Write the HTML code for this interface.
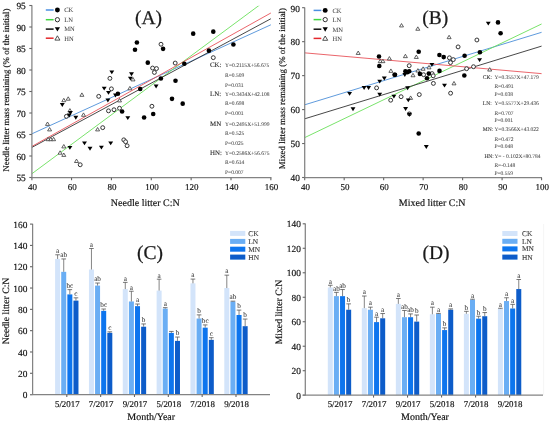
<!DOCTYPE html><html><head><meta charset="utf-8"><style>html,body{margin:0;padding:0;background:#fff;}svg{display:block;} text{font-family:"Liberation Serif",serif;text-rendering:geometricPrecision;stroke-width:0.16px;} </style></head><body>
<svg width="550" height="423" viewBox="0 0 550 423">
<defs><filter id="bl" x="0" y="0" width="1" height="1"><feGaussianBlur stdDeviation="0.5"/></filter></defs>
<rect width="550" height="423" fill="#fff"/>
<g filter="url(#bl)">
<clipPath id="cpA"><rect x="31.7" y="5.8" width="240" height="173"/></clipPath>
<clipPath id="cpB"><rect x="304.7" y="7" width="238" height="171"/></clipPath>
<g clip-path="url(#cpA)">
<line x1="31.7" y1="133.92" x2="270.86" y2="24.79" stroke="#4d8fd8" stroke-width="0.9" />
<line x1="31.7" y1="173.87" x2="270.86" y2="-3.32" stroke="#6ae05a" stroke-width="0.9" />
<line x1="31.7" y1="147.49" x2="270.86" y2="18.75" stroke="#333" stroke-width="0.9" />
<line x1="31.7" y1="146.53" x2="270.86" y2="12.99" stroke="#e8535a" stroke-width="0.9" />
</g>
<line x1="31.9" y1="5.2" x2="31.9" y2="178" stroke="#838383" stroke-width="1.25" />
<line x1="29.3" y1="177.5" x2="31.9" y2="177.5" stroke="#666" stroke-width="1.1" />
<text x="25.8" y="181.3" font-size="9.4" text-anchor="end" fill="#111" stroke="#111" >55</text>
<line x1="29.3" y1="156" x2="31.9" y2="156" stroke="#666" stroke-width="1.1" />
<text x="25.8" y="159.8" font-size="9.4" text-anchor="end" fill="#111" stroke="#111" >60</text>
<line x1="29.3" y1="134.5" x2="31.9" y2="134.5" stroke="#666" stroke-width="1.1" />
<text x="25.8" y="138.3" font-size="9.4" text-anchor="end" fill="#111" stroke="#111" >65</text>
<line x1="29.3" y1="113" x2="31.9" y2="113" stroke="#666" stroke-width="1.1" />
<text x="25.8" y="116.8" font-size="9.4" text-anchor="end" fill="#111" stroke="#111" >70</text>
<line x1="29.3" y1="91.5" x2="31.9" y2="91.5" stroke="#666" stroke-width="1.1" />
<text x="25.8" y="95.3" font-size="9.4" text-anchor="end" fill="#111" stroke="#111" >75</text>
<line x1="29.3" y1="70" x2="31.9" y2="70" stroke="#666" stroke-width="1.1" />
<text x="25.8" y="73.8" font-size="9.4" text-anchor="end" fill="#111" stroke="#111" >80</text>
<line x1="29.3" y1="48.5" x2="31.9" y2="48.5" stroke="#666" stroke-width="1.1" />
<text x="25.8" y="52.3" font-size="9.4" text-anchor="end" fill="#111" stroke="#111" >85</text>
<line x1="29.3" y1="27" x2="31.9" y2="27" stroke="#666" stroke-width="1.1" />
<text x="25.8" y="30.8" font-size="9.4" text-anchor="end" fill="#111" stroke="#111" >90</text>
<line x1="29.3" y1="5.5" x2="31.9" y2="5.5" stroke="#666" stroke-width="1.1" />
<text x="25.8" y="9.3" font-size="9.4" text-anchor="end" fill="#111" stroke="#111" >95</text>
<line x1="31.4" y1="177.7" x2="271.5" y2="177.7" stroke="#838383" stroke-width="1.25" />
<line x1="31.9" y1="177.7" x2="31.9" y2="180.3" stroke="#666" stroke-width="1.1" />
<text x="32.6" y="190.2" font-size="9.0" text-anchor="middle" fill="#111" stroke="#111" >40</text>
<line x1="71.56" y1="177.7" x2="71.56" y2="180.3" stroke="#666" stroke-width="1.1" />
<text x="72.26" y="190.2" font-size="9.0" text-anchor="middle" fill="#111" stroke="#111" >60</text>
<line x1="111.42" y1="177.7" x2="111.42" y2="180.3" stroke="#666" stroke-width="1.1" />
<text x="112.12" y="190.2" font-size="9.0" text-anchor="middle" fill="#111" stroke="#111" >80</text>
<line x1="151.28" y1="177.7" x2="151.28" y2="180.3" stroke="#666" stroke-width="1.1" />
<text x="151.98" y="190.2" font-size="9.0" text-anchor="middle" fill="#111" stroke="#111" >100</text>
<line x1="191.14" y1="177.7" x2="191.14" y2="180.3" stroke="#666" stroke-width="1.1" />
<text x="191.84" y="190.2" font-size="9.0" text-anchor="middle" fill="#111" stroke="#111" >120</text>
<line x1="231" y1="177.7" x2="231" y2="180.3" stroke="#666" stroke-width="1.1" />
<text x="231.7" y="190.2" font-size="9.0" text-anchor="middle" fill="#111" stroke="#111" >140</text>
<line x1="270.86" y1="177.7" x2="270.86" y2="180.3" stroke="#666" stroke-width="1.1" />
<text x="271.56" y="190.2" font-size="9.0" text-anchor="middle" fill="#111" stroke="#111" >160</text>
<path d="M61.8 101.7L65.8 101.7L63.8 98.3Z" fill="#fff" stroke="#3a3a3a" stroke-width="0.8" stroke-linejoin="miter"/>
<path d="M66.2 100.2L70.2 100.2L68.2 96.8Z" fill="#fff" stroke="#3a3a3a" stroke-width="0.8" stroke-linejoin="miter"/>
<path d="M79.9 96.3L83.9 96.3L81.9 92.9Z" fill="#fff" stroke="#3a3a3a" stroke-width="0.8" stroke-linejoin="miter"/>
<path d="M131 80.9L135 80.9L133 77.5Z" fill="#fff" stroke="#3a3a3a" stroke-width="0.8" stroke-linejoin="miter"/>
<path d="M127.9 89.8L131.9 89.8L129.9 86.4Z" fill="#fff" stroke="#3a3a3a" stroke-width="0.8" stroke-linejoin="miter"/>
<path d="M117.5 101.9L121.5 101.9L119.5 98.5Z" fill="#fff" stroke="#3a3a3a" stroke-width="0.8" stroke-linejoin="miter"/>
<path d="M67.9 112L71.9 112L69.9 108.6Z" fill="#fff" stroke="#3a3a3a" stroke-width="0.8" stroke-linejoin="miter"/>
<path d="M81.5 116.3L85.5 116.3L83.5 112.9Z" fill="#fff" stroke="#3a3a3a" stroke-width="0.8" stroke-linejoin="miter"/>
<path d="M45.5 125.4L49.5 125.4L47.5 122Z" fill="#fff" stroke="#3a3a3a" stroke-width="0.8" stroke-linejoin="miter"/>
<path d="M47.6 130.9L51.6 130.9L49.6 127.5Z" fill="#fff" stroke="#3a3a3a" stroke-width="0.8" stroke-linejoin="miter"/>
<path d="M46.1 140.7L50.1 140.7L48.1 137.3Z" fill="#fff" stroke="#3a3a3a" stroke-width="0.8" stroke-linejoin="miter"/>
<path d="M48.8 140.7L52.8 140.7L50.8 137.3Z" fill="#fff" stroke="#3a3a3a" stroke-width="0.8" stroke-linejoin="miter"/>
<path d="M51.6 140.7L55.6 140.7L53.6 137.3Z" fill="#fff" stroke="#3a3a3a" stroke-width="0.8" stroke-linejoin="miter"/>
<path d="M95.6 130.9L99.6 130.9L97.6 127.5Z" fill="#fff" stroke="#3a3a3a" stroke-width="0.8" stroke-linejoin="miter"/>
<path d="M61.8 147.9L65.8 147.9L63.8 144.5Z" fill="#fff" stroke="#3a3a3a" stroke-width="0.8" stroke-linejoin="miter"/>
<path d="M58.1 154.2L62.1 154.2L60.1 150.8Z" fill="#fff" stroke="#3a3a3a" stroke-width="0.8" stroke-linejoin="miter"/>
<path d="M61.8 156.4L65.8 156.4L63.8 153Z" fill="#fff" stroke="#3a3a3a" stroke-width="0.8" stroke-linejoin="miter"/>
<path d="M74.5 162.5L78.5 162.5L76.5 159.1Z" fill="#fff" stroke="#3a3a3a" stroke-width="0.8" stroke-linejoin="miter"/>
<circle cx="109.9" cy="78.35" r="1.95" fill="#fff" stroke="#2a2a2a" stroke-width="0.95"/>
<circle cx="111.4" cy="88.85" r="1.95" fill="#fff" stroke="#2a2a2a" stroke-width="0.95"/>
<circle cx="98.7" cy="96.35" r="1.95" fill="#fff" stroke="#2a2a2a" stroke-width="0.95"/>
<circle cx="108.5" cy="110.85" r="1.95" fill="#fff" stroke="#2a2a2a" stroke-width="0.95"/>
<circle cx="114" cy="109.75" r="1.95" fill="#fff" stroke="#2a2a2a" stroke-width="0.95"/>
<circle cx="119.5" cy="108.25" r="1.95" fill="#fff" stroke="#2a2a2a" stroke-width="0.95"/>
<circle cx="102.7" cy="127.65" r="1.95" fill="#fff" stroke="#2a2a2a" stroke-width="0.95"/>
<circle cx="123.8" cy="139.85" r="1.95" fill="#fff" stroke="#2a2a2a" stroke-width="0.95"/>
<circle cx="125.6" cy="141.75" r="1.95" fill="#fff" stroke="#2a2a2a" stroke-width="0.95"/>
<circle cx="127.1" cy="145.75" r="1.95" fill="#fff" stroke="#2a2a2a" stroke-width="0.95"/>
<circle cx="80.2" cy="164.75" r="1.95" fill="#fff" stroke="#2a2a2a" stroke-width="0.95"/>
<circle cx="161" cy="44.25" r="1.95" fill="#fff" stroke="#2a2a2a" stroke-width="0.95"/>
<circle cx="175.2" cy="63.05" r="1.95" fill="#fff" stroke="#2a2a2a" stroke-width="0.95"/>
<circle cx="152.6" cy="68.05" r="1.95" fill="#fff" stroke="#2a2a2a" stroke-width="0.95"/>
<circle cx="156.5" cy="68.55" r="1.95" fill="#fff" stroke="#2a2a2a" stroke-width="0.95"/>
<circle cx="154.4" cy="72.45" r="1.95" fill="#fff" stroke="#2a2a2a" stroke-width="0.95"/>
<circle cx="213.3" cy="57.65" r="1.95" fill="#fff" stroke="#2a2a2a" stroke-width="0.95"/>
<circle cx="151.9" cy="106.25" r="1.95" fill="#fff" stroke="#2a2a2a" stroke-width="0.95"/>
<circle cx="66.4" cy="116.35" r="1.95" fill="#fff" stroke="#2a2a2a" stroke-width="0.95"/>
<path d="M109.35 70.4L114.25 70.4L111.8 74.25Z" fill="#000"/>
<path d="M129.05 72.3L133.95 72.3L131.5 76.15Z" fill="#000"/>
<path d="M127.95 76.7L132.85 76.7L130.4 80.55Z" fill="#000"/>
<path d="M101.75 86.7L106.65 86.7L104.2 90.55Z" fill="#000"/>
<path d="M106.05 91L110.95 91L108.5 94.85Z" fill="#000"/>
<path d="M113.05 93.6L117.95 93.6L115.5 97.45Z" fill="#000"/>
<path d="M105.45 98.6L110.35 98.6L107.9 102.45Z" fill="#000"/>
<path d="M59.85 103.1L64.75 103.1L62.3 106.95Z" fill="#000"/>
<path d="M66.85 113.6L71.75 113.6L69.3 117.45Z" fill="#000"/>
<path d="M73.35 115.8L78.25 115.8L75.8 119.65Z" fill="#000"/>
<path d="M125.35 116.2L130.25 116.2L127.8 120.05Z" fill="#000"/>
<path d="M82.05 141.5L86.95 141.5L84.5 145.35Z" fill="#000"/>
<path d="M108.25 141.5L113.15 141.5L110.7 145.35Z" fill="#000"/>
<path d="M67.45 145.9L72.35 145.9L69.9 149.75Z" fill="#000"/>
<path d="M87.55 146.8L92.45 146.8L90 150.65Z" fill="#000"/>
<path d="M98.95 145.7L103.85 145.7L101.4 149.55Z" fill="#000"/>
<path d="M153.65 84.6L158.55 84.6L156.1 88.45Z" fill="#000"/>
<path d="M67.95 111L72.85 111L70.4 114.85Z" fill="#000"/>
<circle cx="136.9" cy="42.55" r="2.3" fill="#000"/>
<circle cx="135" cy="49.75" r="2.3" fill="#000"/>
<circle cx="147.8" cy="62.65" r="2.3" fill="#000"/>
<circle cx="140.2" cy="89.05" r="2.3" fill="#000"/>
<circle cx="193.2" cy="33.65" r="2.3" fill="#000"/>
<circle cx="213.3" cy="31.65" r="2.3" fill="#000"/>
<circle cx="233.4" cy="44.55" r="2.3" fill="#000"/>
<circle cx="163.1" cy="48.85" r="2.3" fill="#000"/>
<circle cx="208.9" cy="50.65" r="2.3" fill="#000"/>
<circle cx="184.3" cy="63.75" r="2.3" fill="#000"/>
<circle cx="160.9" cy="78.55" r="2.3" fill="#000"/>
<circle cx="175.5" cy="80.75" r="2.3" fill="#000"/>
<circle cx="172" cy="98.85" r="2.3" fill="#000"/>
<circle cx="182.7" cy="103.65" r="2.3" fill="#000"/>
<circle cx="153.2" cy="114.05" r="2.3" fill="#000"/>
<circle cx="144.1" cy="117.45" r="2.3" fill="#000"/>
<circle cx="117.9" cy="93.75" r="2.3" fill="#000"/>
<circle cx="122.1" cy="111.55" r="2.3" fill="#000"/>
<text x="148.6" y="23.8" font-size="19.5" text-anchor="middle" fill="#1a1a1a" stroke="#1a1a1a" style="stroke-width:0.25px">(A)</text>
<text x="145.3" y="205.6" font-size="10" text-anchor="middle" fill="#111" stroke="#111" >Needle litter C:N</text>
<text transform="translate(8.55,90.15) rotate(-90)" font-size="8.87" text-anchor="middle" fill="#111" stroke="#111">Needle litter mass remaining (% of the initial)</text>
<line x1="45.8" y1="10" x2="53.6" y2="10" stroke="#4a8fe0" stroke-width="1.5" />
<circle cx="57.4" cy="10" r="2.45" fill="#000"/>
<text x="64.2" y="12.3" font-size="6.5" text-anchor="start" fill="#3c3c3c" stroke="#3c3c3c" style="stroke-width:0.04px">CK</text>
<line x1="45.8" y1="19.7" x2="53.6" y2="19.7" stroke="#3fd63f" stroke-width="1.5" />
<circle cx="57.4" cy="19.7" r="2.15" fill="#fff" stroke="#2a2a2a" stroke-width="0.95"/>
<text x="64.2" y="22" font-size="6.5" text-anchor="start" fill="#3c3c3c" stroke="#3c3c3c" style="stroke-width:0.04px">LN</text>
<line x1="45.8" y1="29.1" x2="53.6" y2="29.1" stroke="#111" stroke-width="1.5" />
<path d="M54.8 27.2L60 27.2L57.4 31.6Z" fill="#000"/>
<text x="64.2" y="31.4" font-size="6.5" text-anchor="start" fill="#3c3c3c" stroke="#3c3c3c" style="stroke-width:0.04px">MN</text>
<line x1="45.8" y1="38.2" x2="53.6" y2="38.2" stroke="#e4282d" stroke-width="1.5" />
<path d="M54.9 40.1L59.9 40.1L57.4 35.8Z" fill="#fff" stroke="#333" stroke-width="0.85"/>
<text x="64.2" y="40.5" font-size="6.5" text-anchor="start" fill="#3c3c3c" stroke="#3c3c3c" style="stroke-width:0.04px">HN</text>
<text x="210" y="67.1" font-size="6.9" text-anchor="start" fill="#2a2a2a" stroke="#2a2a2a" style="stroke-width:0.12px">CK:</text>
<text x="225" y="67.1" font-size="5.5" text-anchor="start" fill="#4a4a4a" stroke="#4a4a4a" style="stroke-width:0.06px">Y=0.2115X+56.675</text>
<text x="225" y="76.7" font-size="5.5" text-anchor="start" fill="#4a4a4a" stroke="#4a4a4a" style="stroke-width:0.06px">R=0.509</text>
<text x="225" y="86.8" font-size="5.5" text-anchor="start" fill="#4a4a4a" stroke="#4a4a4a" style="stroke-width:0.06px">P=0.031</text>
<text x="210" y="96" font-size="6.9" text-anchor="start" fill="#2a2a2a" stroke="#2a2a2a" style="stroke-width:0.12px">LN:</text>
<text x="225" y="96" font-size="5.5" text-anchor="start" fill="#4a4a4a" stroke="#4a4a4a" style="stroke-width:0.06px">Y=0.3434X+42.108</text>
<text x="225" y="105.2" font-size="5.5" text-anchor="start" fill="#4a4a4a" stroke="#4a4a4a" style="stroke-width:0.06px">R=0.698</text>
<text x="225" y="115.1" font-size="5.5" text-anchor="start" fill="#4a4a4a" stroke="#4a4a4a" style="stroke-width:0.06px">P=0.001</text>
<text x="210" y="125.7" font-size="6.9" text-anchor="start" fill="#2a2a2a" stroke="#2a2a2a" style="stroke-width:0.12px">MN</text>
<text x="225" y="125.7" font-size="5.5" text-anchor="start" fill="#4a4a4a" stroke="#4a4a4a" style="stroke-width:0.06px">Y=0.2495X+51.999</text>
<text x="225" y="135" font-size="5.5" text-anchor="start" fill="#4a4a4a" stroke="#4a4a4a" style="stroke-width:0.06px">R=0.525</text>
<text x="225" y="145" font-size="5.5" text-anchor="start" fill="#4a4a4a" stroke="#4a4a4a" style="stroke-width:0.06px">P=0.025</text>
<text x="210" y="154.5" font-size="6.9" text-anchor="start" fill="#2a2a2a" stroke="#2a2a2a" style="stroke-width:0.12px">HN:</text>
<text x="225" y="154.5" font-size="5.5" text-anchor="start" fill="#4a4a4a" stroke="#4a4a4a" style="stroke-width:0.06px">Y=0.2586X+56.675</text>
<text x="225" y="164.4" font-size="5.5" text-anchor="start" fill="#4a4a4a" stroke="#4a4a4a" style="stroke-width:0.06px">R=0.614</text>
<text x="225" y="174" font-size="5.5" text-anchor="start" fill="#4a4a4a" stroke="#4a4a4a" style="stroke-width:0.06px">P=0.007</text>
<g clip-path="url(#cpB)">
<line x1="304.7" y1="104.8" x2="541.58" y2="32.32" stroke="#4d8fd8" stroke-width="0.9" />
<line x1="304.7" y1="137.62" x2="541.58" y2="23.98" stroke="#6ae05a" stroke-width="0.9" />
<line x1="304.7" y1="118.8" x2="541.58" y2="46.14" stroke="#333" stroke-width="0.9" />
<line x1="304.7" y1="52.85" x2="541.58" y2="73.64" stroke="#e8535a" stroke-width="0.9" />
</g>
<line x1="304.7" y1="7.4" x2="304.7" y2="178" stroke="#838383" stroke-width="1.25" />
<line x1="302.1" y1="177.5" x2="304.7" y2="177.5" stroke="#666" stroke-width="1.1" />
<text x="299.9" y="181.3" font-size="9.4" text-anchor="end" fill="#111" stroke="#111" >40</text>
<line x1="302.1" y1="143.54" x2="304.7" y2="143.54" stroke="#666" stroke-width="1.1" />
<text x="299.9" y="147.34" font-size="9.4" text-anchor="end" fill="#111" stroke="#111" >50</text>
<line x1="302.1" y1="109.58" x2="304.7" y2="109.58" stroke="#666" stroke-width="1.1" />
<text x="299.9" y="113.38" font-size="9.4" text-anchor="end" fill="#111" stroke="#111" >60</text>
<line x1="302.1" y1="75.62" x2="304.7" y2="75.62" stroke="#666" stroke-width="1.1" />
<text x="299.9" y="79.42" font-size="9.4" text-anchor="end" fill="#111" stroke="#111" >70</text>
<line x1="302.1" y1="41.66" x2="304.7" y2="41.66" stroke="#666" stroke-width="1.1" />
<text x="299.9" y="45.46" font-size="9.4" text-anchor="end" fill="#111" stroke="#111" >80</text>
<line x1="302.1" y1="7.7" x2="304.7" y2="7.7" stroke="#666" stroke-width="1.1" />
<text x="299.9" y="11.5" font-size="9.4" text-anchor="end" fill="#111" stroke="#111" >90</text>
<line x1="304.2" y1="177.7" x2="542" y2="177.7" stroke="#838383" stroke-width="1.25" />
<line x1="304.7" y1="177.7" x2="304.7" y2="180.3" stroke="#666" stroke-width="1.1" />
<text x="305.4" y="190.2" font-size="9.0" text-anchor="middle" fill="#111" stroke="#111" >40</text>
<line x1="344.18" y1="177.7" x2="344.18" y2="180.3" stroke="#666" stroke-width="1.1" />
<text x="344.88" y="190.2" font-size="9.0" text-anchor="middle" fill="#111" stroke="#111" >50</text>
<line x1="383.66" y1="177.7" x2="383.66" y2="180.3" stroke="#666" stroke-width="1.1" />
<text x="384.36" y="190.2" font-size="9.0" text-anchor="middle" fill="#111" stroke="#111" >60</text>
<line x1="423.14" y1="177.7" x2="423.14" y2="180.3" stroke="#666" stroke-width="1.1" />
<text x="423.84" y="190.2" font-size="9.0" text-anchor="middle" fill="#111" stroke="#111" >70</text>
<line x1="462.62" y1="177.7" x2="462.62" y2="180.3" stroke="#666" stroke-width="1.1" />
<text x="463.32" y="190.2" font-size="9.0" text-anchor="middle" fill="#111" stroke="#111" >80</text>
<line x1="502.1" y1="177.7" x2="502.1" y2="180.3" stroke="#666" stroke-width="1.1" />
<text x="502.8" y="190.2" font-size="9.0" text-anchor="middle" fill="#111" stroke="#111" >90</text>
<line x1="541.58" y1="177.7" x2="541.58" y2="180.3" stroke="#666" stroke-width="1.1" />
<text x="542.28" y="190.2" font-size="9.0" text-anchor="middle" fill="#111" stroke="#111" >100</text>
<path d="M356.2 54.45L360.2 54.45L358.2 51.05Z" fill="#fff" stroke="#3a3a3a" stroke-width="0.8" stroke-linejoin="miter"/>
<path d="M378.2 62.65L382.2 62.65L380.2 59.25Z" fill="#fff" stroke="#3a3a3a" stroke-width="0.8" stroke-linejoin="miter"/>
<path d="M380.9 62.65L384.9 62.65L382.9 59.25Z" fill="#fff" stroke="#3a3a3a" stroke-width="0.8" stroke-linejoin="miter"/>
<path d="M387.4 59.95L391.4 59.95L389.4 56.55Z" fill="#fff" stroke="#3a3a3a" stroke-width="0.8" stroke-linejoin="miter"/>
<path d="M388.9 72.35L392.9 72.35L390.9 68.95Z" fill="#fff" stroke="#3a3a3a" stroke-width="0.8" stroke-linejoin="miter"/>
<path d="M399.5 26.95L403.5 26.95L401.5 23.55Z" fill="#fff" stroke="#3a3a3a" stroke-width="0.8" stroke-linejoin="miter"/>
<path d="M415.8 30.25L419.8 30.25L417.8 26.85Z" fill="#fff" stroke="#3a3a3a" stroke-width="0.8" stroke-linejoin="miter"/>
<path d="M403.4 57.65L407.4 57.65L405.4 54.25Z" fill="#fff" stroke="#3a3a3a" stroke-width="0.8" stroke-linejoin="miter"/>
<path d="M414.3 58.45L418.3 58.45L416.3 55.05Z" fill="#fff" stroke="#3a3a3a" stroke-width="0.8" stroke-linejoin="miter"/>
<path d="M427 68.85L431 68.85L429 65.45Z" fill="#fff" stroke="#3a3a3a" stroke-width="0.8" stroke-linejoin="miter"/>
<path d="M421.1 70.25L425.1 70.25L423.1 66.85Z" fill="#fff" stroke="#3a3a3a" stroke-width="0.8" stroke-linejoin="miter"/>
<path d="M415.9 72.05L419.9 72.05L417.9 68.65Z" fill="#fff" stroke="#3a3a3a" stroke-width="0.8" stroke-linejoin="miter"/>
<path d="M411 76.75L415 76.75L413 73.35Z" fill="#fff" stroke="#3a3a3a" stroke-width="0.8" stroke-linejoin="miter"/>
<path d="M447.1 38.65L451.1 38.65L449.1 35.25Z" fill="#fff" stroke="#3a3a3a" stroke-width="0.8" stroke-linejoin="miter"/>
<path d="M487.7 71.05L491.7 71.05L489.7 67.65Z" fill="#fff" stroke="#3a3a3a" stroke-width="0.8" stroke-linejoin="miter"/>
<path d="M452 84.85L456 84.85L454 81.45Z" fill="#fff" stroke="#3a3a3a" stroke-width="0.8" stroke-linejoin="miter"/>
<path d="M408.6 99.35L412.6 99.35L410.6 95.95Z" fill="#fff" stroke="#3a3a3a" stroke-width="0.8" stroke-linejoin="miter"/>
<circle cx="376.6" cy="87.9" r="1.95" fill="#fff" stroke="#2a2a2a" stroke-width="0.95"/>
<circle cx="409.2" cy="65.7" r="1.95" fill="#fff" stroke="#2a2a2a" stroke-width="0.95"/>
<circle cx="423.6" cy="74.7" r="1.95" fill="#fff" stroke="#2a2a2a" stroke-width="0.95"/>
<circle cx="432.1" cy="73.6" r="1.95" fill="#fff" stroke="#2a2a2a" stroke-width="0.95"/>
<circle cx="433.2" cy="75.8" r="1.95" fill="#fff" stroke="#2a2a2a" stroke-width="0.95"/>
<circle cx="433.4" cy="83.4" r="1.95" fill="#fff" stroke="#2a2a2a" stroke-width="0.95"/>
<circle cx="449.4" cy="57.8" r="1.95" fill="#fff" stroke="#2a2a2a" stroke-width="0.95"/>
<circle cx="453.3" cy="59.6" r="1.95" fill="#fff" stroke="#2a2a2a" stroke-width="0.95"/>
<circle cx="450.5" cy="62.6" r="1.95" fill="#fff" stroke="#2a2a2a" stroke-width="0.95"/>
<circle cx="458.1" cy="46.9" r="1.95" fill="#fff" stroke="#2a2a2a" stroke-width="0.95"/>
<circle cx="476.9" cy="40" r="1.95" fill="#fff" stroke="#2a2a2a" stroke-width="0.95"/>
<circle cx="466.6" cy="68.7" r="1.95" fill="#fff" stroke="#2a2a2a" stroke-width="0.95"/>
<circle cx="473.5" cy="66.7" r="1.95" fill="#fff" stroke="#2a2a2a" stroke-width="0.95"/>
<circle cx="390.7" cy="100.2" r="1.95" fill="#fff" stroke="#2a2a2a" stroke-width="0.95"/>
<circle cx="401.1" cy="96.7" r="1.95" fill="#fff" stroke="#2a2a2a" stroke-width="0.95"/>
<circle cx="419.3" cy="94.6" r="1.95" fill="#fff" stroke="#2a2a2a" stroke-width="0.95"/>
<circle cx="450.6" cy="93.2" r="1.95" fill="#fff" stroke="#2a2a2a" stroke-width="0.95"/>
<circle cx="409.4" cy="113.9" r="1.95" fill="#fff" stroke="#2a2a2a" stroke-width="0.95"/>
<path d="M347.15 91.95L352.05 91.95L349.6 95.8Z" fill="#000"/>
<path d="M361.65 86.05L366.55 86.05L364.1 89.9Z" fill="#000"/>
<path d="M366.15 86.05L371.05 86.05L368.6 89.9Z" fill="#000"/>
<path d="M377.25 79.75L382.15 79.75L379.7 83.6Z" fill="#000"/>
<path d="M381.85 76.55L386.75 76.55L384.3 80.4Z" fill="#000"/>
<path d="M377.25 92.65L382.15 92.65L379.7 96.5Z" fill="#000"/>
<path d="M391.45 94.75L396.35 94.75L393.9 98.6Z" fill="#000"/>
<path d="M405.15 86.35L410.05 86.35L407.6 90.2Z" fill="#000"/>
<path d="M402.35 73.05L407.25 73.05L404.8 76.9Z" fill="#000"/>
<path d="M429.45 62.95L434.35 62.95L431.9 66.8Z" fill="#000"/>
<path d="M442.05 83.75L446.95 83.75L444.5 87.6Z" fill="#000"/>
<path d="M477.15 58.15L482.05 58.15L479.6 62Z" fill="#000"/>
<path d="M485.85 21.75L490.75 21.75L488.3 25.6Z" fill="#000"/>
<path d="M405.85 98.45L410.75 98.45L408.3 102.3Z" fill="#000"/>
<path d="M403.15 107.05L408.05 107.05L405.6 110.9Z" fill="#000"/>
<path d="M406.95 112.85L411.85 112.85L409.4 116.7Z" fill="#000"/>
<path d="M423.85 145.05L428.75 145.05L426.3 148.9Z" fill="#000"/>
<path d="M350.55 107.35L355.45 107.35L353 111.2Z" fill="#000"/>
<circle cx="379" cy="56.5" r="2.3" fill="#000"/>
<circle cx="379.3" cy="66" r="2.3" fill="#000"/>
<circle cx="394.6" cy="74.8" r="2.3" fill="#000"/>
<circle cx="418.7" cy="51.8" r="2.3" fill="#000"/>
<circle cx="405.4" cy="71.2" r="2.3" fill="#000"/>
<circle cx="409.2" cy="71.2" r="2.3" fill="#000"/>
<circle cx="419.9" cy="73.9" r="2.3" fill="#000"/>
<circle cx="428.8" cy="73.6" r="2.3" fill="#000"/>
<circle cx="427" cy="78.3" r="2.3" fill="#000"/>
<circle cx="395" cy="74.7" r="2.3" fill="#000"/>
<circle cx="439.5" cy="70.9" r="2.3" fill="#000"/>
<circle cx="439.4" cy="55" r="2.3" fill="#000"/>
<circle cx="443.7" cy="57.1" r="2.3" fill="#000"/>
<circle cx="464.6" cy="55.7" r="2.3" fill="#000"/>
<circle cx="479.9" cy="52.3" r="2.3" fill="#000"/>
<circle cx="498" cy="22.4" r="2.3" fill="#000"/>
<circle cx="500.6" cy="33.3" r="2.3" fill="#000"/>
<circle cx="464.3" cy="75.5" r="2.3" fill="#000"/>
<circle cx="418.7" cy="133.5" r="2.3" fill="#000"/>
<circle cx="407.4" cy="72.3" r="2.3" fill="#000"/>
<text x="435.3" y="24.3" font-size="19.5" text-anchor="middle" fill="#1a1a1a" stroke="#1a1a1a" style="stroke-width:0.25px">(B)</text>
<text x="432.2" y="205.6" font-size="10" text-anchor="middle" fill="#111" stroke="#111" >Mixed litter C:N</text>
<text transform="translate(284.8,88.6) rotate(-90)" font-size="8.87" text-anchor="middle" fill="#111" stroke="#111">Mixed litter mass remaining (% of the initial)</text>
<line x1="313.6" y1="10.4" x2="321.3" y2="10.4" stroke="#4a8fe0" stroke-width="1.5" />
<circle cx="325.2" cy="10.4" r="2.45" fill="#000"/>
<text x="332.5" y="12.7" font-size="6.5" text-anchor="start" fill="#3c3c3c" stroke="#3c3c3c" style="stroke-width:0.04px">CK</text>
<line x1="313.6" y1="19.6" x2="321.3" y2="19.6" stroke="#3fd63f" stroke-width="1.5" />
<circle cx="325.2" cy="19.6" r="2.15" fill="#fff" stroke="#2a2a2a" stroke-width="0.95"/>
<text x="332.5" y="21.9" font-size="6.5" text-anchor="start" fill="#3c3c3c" stroke="#3c3c3c" style="stroke-width:0.04px">LN</text>
<line x1="313.6" y1="29.2" x2="321.3" y2="29.2" stroke="#111" stroke-width="1.5" />
<path d="M322.6 27.3L327.8 27.3L325.2 31.7Z" fill="#000"/>
<text x="332.5" y="31.5" font-size="6.5" text-anchor="start" fill="#3c3c3c" stroke="#3c3c3c" style="stroke-width:0.04px">MN</text>
<line x1="313.6" y1="38.4" x2="321.3" y2="38.4" stroke="#e4282d" stroke-width="1.5" />
<path d="M322.7 40.3L327.7 40.3L325.2 36Z" fill="#fff" stroke="#333" stroke-width="0.85"/>
<text x="332.5" y="40.7" font-size="6.5" text-anchor="start" fill="#3c3c3c" stroke="#3c3c3c" style="stroke-width:0.04px">HN</text>
<text x="482.8" y="78.6" font-size="5.5" text-anchor="start" fill="#333" stroke="#333" style="stroke-width:0.08px">CK:</text>
<text x="494.4" y="78.6" font-size="5.5" text-anchor="start" fill="#4a4a4a" stroke="#4a4a4a" style="stroke-width:0.06px">Y=0.3557X+47.179</text>
<text x="494.4" y="87.9" font-size="5.5" text-anchor="start" fill="#4a4a4a" stroke="#4a4a4a" style="stroke-width:0.06px">R=0.491</text>
<text x="494.4" y="96.3" font-size="5.5" text-anchor="start" fill="#4a4a4a" stroke="#4a4a4a" style="stroke-width:0.06px">P=0.038</text>
<text x="482.8" y="105" font-size="5.5" text-anchor="start" fill="#333" stroke="#333" style="stroke-width:0.08px">LN:</text>
<text x="494.4" y="105" font-size="5.5" text-anchor="start" fill="#4a4a4a" stroke="#4a4a4a" style="stroke-width:0.06px">Y=0.5577X+29.436</text>
<text x="494.4" y="115" font-size="5.5" text-anchor="start" fill="#4a4a4a" stroke="#4a4a4a" style="stroke-width:0.06px">R=0.707</text>
<text x="494.4" y="122.3" font-size="5.5" text-anchor="start" fill="#4a4a4a" stroke="#4a4a4a" style="stroke-width:0.06px">P=0.001</text>
<text x="482.8" y="131" font-size="5.5" text-anchor="start" fill="#333" stroke="#333" style="stroke-width:0.08px">MN:</text>
<text x="494.4" y="131" font-size="5.5" text-anchor="start" fill="#4a4a4a" stroke="#4a4a4a" style="stroke-width:0.06px">Y=0.3566X+43.022</text>
<text x="494.4" y="140.6" font-size="5.5" text-anchor="start" fill="#4a4a4a" stroke="#4a4a4a" style="stroke-width:0.06px">R=0.472</text>
<text x="494.4" y="148.2" font-size="5.5" text-anchor="start" fill="#4a4a4a" stroke="#4a4a4a" style="stroke-width:0.06px">P=0.048</text>
<text x="484.4" y="157.6" font-size="5.5" text-anchor="start" fill="#333" stroke="#333" style="stroke-width:0.08px">HN:</text>
<text x="494.4" y="157.6" font-size="5.5" text-anchor="start" fill="#4a4a4a" stroke="#4a4a4a" style="stroke-width:0.06px">Y= - 0.102X+80.784</text>
<text x="494.4" y="167" font-size="5.5" text-anchor="start" fill="#4a4a4a" stroke="#4a4a4a" style="stroke-width:0.06px">R=-0.148</text>
<text x="494.4" y="174.9" font-size="5.5" text-anchor="start" fill="#4a4a4a" stroke="#4a4a4a" style="stroke-width:0.06px">P=0.559</text>
<rect x="55.1" y="258.95" width="5.0" height="135.65" fill="#d3e4fa"/>
<rect x="61.22" y="271.84" width="5.0" height="122.76" fill="#6aaef4"/>
<rect x="67.34" y="294.43" width="5.0" height="100.17" fill="#0b74ee"/>
<rect x="73.46" y="300.61" width="5.0" height="93.99" fill="#0b5cc9"/>
<rect x="88.94" y="269.5" width="5.0" height="125.1" fill="#d3e4fa"/>
<rect x="95.06" y="285.59" width="5.0" height="109.01" fill="#6aaef4"/>
<rect x="101.18" y="310.84" width="5.0" height="83.76" fill="#0b74ee"/>
<rect x="107.3" y="332.9" width="5.0" height="61.7" fill="#0b5cc9"/>
<rect x="122.78" y="289.11" width="5.0" height="105.49" fill="#d3e4fa"/>
<rect x="128.9" y="301.47" width="5.0" height="93.13" fill="#6aaef4"/>
<rect x="135.02" y="306.16" width="5.0" height="88.44" fill="#0b74ee"/>
<rect x="141.14" y="326.72" width="5.0" height="67.88" fill="#0b5cc9"/>
<rect x="156.62" y="290.6" width="5.0" height="104" fill="#d3e4fa"/>
<rect x="162.74" y="308.61" width="5.0" height="85.99" fill="#6aaef4"/>
<rect x="168.86" y="332.9" width="5.0" height="61.7" fill="#0b74ee"/>
<rect x="174.98" y="340.89" width="5.0" height="53.71" fill="#0b5cc9"/>
<rect x="190.46" y="283.35" width="5.0" height="111.25" fill="#d3e4fa"/>
<rect x="196.58" y="318.52" width="5.0" height="76.08" fill="#6aaef4"/>
<rect x="202.7" y="327.68" width="5.0" height="66.92" fill="#0b74ee"/>
<rect x="208.82" y="339.83" width="5.0" height="54.77" fill="#0b5cc9"/>
<rect x="224.3" y="288.04" width="5.0" height="106.56" fill="#d3e4fa"/>
<rect x="230.42" y="301.57" width="5.0" height="93.03" fill="#6aaef4"/>
<rect x="236.54" y="315" width="5.0" height="79.6" fill="#0b74ee"/>
<rect x="242.66" y="326.19" width="5.0" height="68.41" fill="#0b5cc9"/>
<line x1="57.6" y1="258.95" x2="57.6" y2="254.79" stroke="#666" stroke-width="0.8" />
<line x1="55.3" y1="254.79" x2="59.9" y2="254.79" stroke="#555" stroke-width="0.8" />
<text x="57.6" y="253.09" font-size="7.2" text-anchor="middle" fill="#3a3a3a" stroke="#3a3a3a" style="stroke-width:0.06px">a</text>
<line x1="63.72" y1="271.84" x2="63.72" y2="258.95" stroke="#666" stroke-width="0.8" />
<line x1="61.42" y1="258.95" x2="66.02" y2="258.95" stroke="#555" stroke-width="0.8" />
<text x="63.72" y="257.25" font-size="7.2" text-anchor="middle" fill="#3a3a3a" stroke="#3a3a3a" style="stroke-width:0.06px">ab</text>
<line x1="69.84" y1="294.43" x2="69.84" y2="289.64" stroke="#666" stroke-width="0.8" />
<line x1="67.54" y1="289.64" x2="72.14" y2="289.64" stroke="#555" stroke-width="0.8" />
<text x="69.84" y="287.94" font-size="7.2" text-anchor="middle" fill="#3a3a3a" stroke="#3a3a3a" style="stroke-width:0.06px">bc</text>
<line x1="75.96" y1="300.61" x2="75.96" y2="297.84" stroke="#666" stroke-width="0.8" />
<line x1="73.66" y1="297.84" x2="78.26" y2="297.84" stroke="#555" stroke-width="0.8" />
<text x="75.96" y="296.14" font-size="7.2" text-anchor="middle" fill="#3a3a3a" stroke="#3a3a3a" style="stroke-width:0.06px">c</text>
<line x1="91.44" y1="269.5" x2="91.44" y2="248.51" stroke="#666" stroke-width="0.8" />
<line x1="89.14" y1="248.51" x2="93.74" y2="248.51" stroke="#555" stroke-width="0.8" />
<text x="91.44" y="246.81" font-size="7.2" text-anchor="middle" fill="#3a3a3a" stroke="#3a3a3a" style="stroke-width:0.06px">a</text>
<line x1="97.56" y1="285.59" x2="97.56" y2="283.03" stroke="#666" stroke-width="0.8" />
<line x1="95.26" y1="283.03" x2="99.86" y2="283.03" stroke="#555" stroke-width="0.8" />
<text x="97.56" y="281.33" font-size="7.2" text-anchor="middle" fill="#3a3a3a" stroke="#3a3a3a" style="stroke-width:0.06px">ab</text>
<line x1="103.68" y1="310.84" x2="103.68" y2="309.03" stroke="#666" stroke-width="0.8" />
<line x1="101.38" y1="309.03" x2="105.98" y2="309.03" stroke="#555" stroke-width="0.8" />
<text x="103.68" y="307.33" font-size="7.2" text-anchor="middle" fill="#3a3a3a" stroke="#3a3a3a" style="stroke-width:0.06px">bc</text>
<line x1="109.8" y1="332.9" x2="109.8" y2="331.84" stroke="#666" stroke-width="0.8" />
<line x1="107.5" y1="331.84" x2="112.1" y2="331.84" stroke="#555" stroke-width="0.8" />
<text x="109.8" y="330.14" font-size="7.2" text-anchor="middle" fill="#3a3a3a" stroke="#3a3a3a" style="stroke-width:0.06px">c</text>
<line x1="125.28" y1="289.11" x2="125.28" y2="282.39" stroke="#666" stroke-width="0.8" />
<line x1="122.98" y1="282.39" x2="127.58" y2="282.39" stroke="#555" stroke-width="0.8" />
<text x="125.28" y="280.69" font-size="7.2" text-anchor="middle" fill="#3a3a3a" stroke="#3a3a3a" style="stroke-width:0.06px">a</text>
<line x1="131.4" y1="301.47" x2="131.4" y2="291.24" stroke="#666" stroke-width="0.8" />
<line x1="129.1" y1="291.24" x2="133.7" y2="291.24" stroke="#555" stroke-width="0.8" />
<text x="131.4" y="289.54" font-size="7.2" text-anchor="middle" fill="#3a3a3a" stroke="#3a3a3a" style="stroke-width:0.06px">a</text>
<line x1="137.52" y1="306.16" x2="137.52" y2="304.02" stroke="#666" stroke-width="0.8" />
<line x1="135.22" y1="304.02" x2="139.82" y2="304.02" stroke="#555" stroke-width="0.8" />
<text x="137.52" y="302.32" font-size="7.2" text-anchor="middle" fill="#3a3a3a" stroke="#3a3a3a" style="stroke-width:0.06px">a</text>
<line x1="143.64" y1="326.72" x2="143.64" y2="323.95" stroke="#666" stroke-width="0.8" />
<line x1="141.34" y1="323.95" x2="145.94" y2="323.95" stroke="#555" stroke-width="0.8" />
<text x="143.64" y="322.25" font-size="7.2" text-anchor="middle" fill="#3a3a3a" stroke="#3a3a3a" style="stroke-width:0.06px">b</text>
<line x1="159.12" y1="290.6" x2="159.12" y2="279.2" stroke="#666" stroke-width="0.8" />
<line x1="156.82" y1="279.2" x2="161.42" y2="279.2" stroke="#555" stroke-width="0.8" />
<text x="159.12" y="277.5" font-size="7.2" text-anchor="middle" fill="#3a3a3a" stroke="#3a3a3a" style="stroke-width:0.06px">a</text>
<line x1="165.24" y1="308.61" x2="165.24" y2="307.65" stroke="#666" stroke-width="0.8" />
<line x1="162.94" y1="307.65" x2="167.54" y2="307.65" stroke="#555" stroke-width="0.8" />
<text x="165.24" y="305.95" font-size="7.2" text-anchor="middle" fill="#3a3a3a" stroke="#3a3a3a" style="stroke-width:0.06px">a</text>
<line x1="171.36" y1="332.9" x2="171.36" y2="331.41" stroke="#666" stroke-width="0.8" />
<line x1="169.06" y1="331.41" x2="173.66" y2="331.41" stroke="#555" stroke-width="0.8" />
<line x1="177.48" y1="340.89" x2="177.48" y2="337.06" stroke="#666" stroke-width="0.8" />
<line x1="175.18" y1="337.06" x2="179.78" y2="337.06" stroke="#555" stroke-width="0.8" />
<text x="177.48" y="335.36" font-size="7.2" text-anchor="middle" fill="#3a3a3a" stroke="#3a3a3a" style="stroke-width:0.06px">b</text>
<line x1="192.96" y1="283.35" x2="192.96" y2="279.09" stroke="#666" stroke-width="0.8" />
<line x1="190.66" y1="279.09" x2="195.26" y2="279.09" stroke="#555" stroke-width="0.8" />
<text x="192.96" y="277.39" font-size="7.2" text-anchor="middle" fill="#3a3a3a" stroke="#3a3a3a" style="stroke-width:0.06px">a</text>
<line x1="199.08" y1="318.52" x2="199.08" y2="314.89" stroke="#666" stroke-width="0.8" />
<line x1="196.78" y1="314.89" x2="201.38" y2="314.89" stroke="#555" stroke-width="0.8" />
<text x="199.08" y="313.19" font-size="7.2" text-anchor="middle" fill="#3a3a3a" stroke="#3a3a3a" style="stroke-width:0.06px">b</text>
<line x1="205.2" y1="327.68" x2="205.2" y2="324.91" stroke="#666" stroke-width="0.8" />
<line x1="202.9" y1="324.91" x2="207.5" y2="324.91" stroke="#555" stroke-width="0.8" />
<text x="205.2" y="323.21" font-size="7.2" text-anchor="middle" fill="#3a3a3a" stroke="#3a3a3a" style="stroke-width:0.06px">bc</text>
<line x1="211.32" y1="339.83" x2="211.32" y2="337.7" stroke="#666" stroke-width="0.8" />
<line x1="209.02" y1="337.7" x2="213.62" y2="337.7" stroke="#555" stroke-width="0.8" />
<text x="211.32" y="336" font-size="7.2" text-anchor="middle" fill="#3a3a3a" stroke="#3a3a3a" style="stroke-width:0.06px">c</text>
<line x1="226.8" y1="288.04" x2="226.8" y2="275.15" stroke="#666" stroke-width="0.8" />
<line x1="224.5" y1="275.15" x2="229.1" y2="275.15" stroke="#555" stroke-width="0.8" />
<text x="226.8" y="273.45" font-size="7.2" text-anchor="middle" fill="#3a3a3a" stroke="#3a3a3a" style="stroke-width:0.06px">a</text>
<line x1="232.92" y1="301.57" x2="232.92" y2="301.15" stroke="#666" stroke-width="0.8" />
<line x1="230.62" y1="301.15" x2="235.22" y2="301.15" stroke="#555" stroke-width="0.8" />
<text x="232.92" y="299.45" font-size="7.2" text-anchor="middle" fill="#3a3a3a" stroke="#3a3a3a" style="stroke-width:0.06px">ab</text>
<line x1="239.04" y1="315" x2="239.04" y2="310.1" stroke="#666" stroke-width="0.8" />
<line x1="236.74" y1="310.1" x2="241.34" y2="310.1" stroke="#555" stroke-width="0.8" />
<text x="239.04" y="308.4" font-size="7.2" text-anchor="middle" fill="#3a3a3a" stroke="#3a3a3a" style="stroke-width:0.06px">b</text>
<line x1="245.16" y1="326.19" x2="245.16" y2="319.05" stroke="#666" stroke-width="0.8" />
<line x1="242.86" y1="319.05" x2="247.46" y2="319.05" stroke="#555" stroke-width="0.8" />
<text x="245.16" y="317.35" font-size="7.2" text-anchor="middle" fill="#3a3a3a" stroke="#3a3a3a" style="stroke-width:0.06px">b</text>
<line x1="32.6" y1="223.8" x2="32.6" y2="395" stroke="#838383" stroke-width="1.25" />
<line x1="30" y1="394.6" x2="32.6" y2="394.6" stroke="#666" stroke-width="1.1" />
<text x="27.4" y="398.2" font-size="9.4" text-anchor="end" fill="#111" stroke="#111" >0</text>
<line x1="30" y1="373.29" x2="32.6" y2="373.29" stroke="#666" stroke-width="1.1" />
<text x="27.4" y="376.89" font-size="9.4" text-anchor="end" fill="#111" stroke="#111" >20</text>
<line x1="30" y1="351.98" x2="32.6" y2="351.98" stroke="#666" stroke-width="1.1" />
<text x="27.4" y="355.58" font-size="9.4" text-anchor="end" fill="#111" stroke="#111" >40</text>
<line x1="30" y1="330.66" x2="32.6" y2="330.66" stroke="#666" stroke-width="1.1" />
<text x="27.4" y="334.26" font-size="9.4" text-anchor="end" fill="#111" stroke="#111" >60</text>
<line x1="30" y1="309.35" x2="32.6" y2="309.35" stroke="#666" stroke-width="1.1" />
<text x="27.4" y="312.95" font-size="9.4" text-anchor="end" fill="#111" stroke="#111" >80</text>
<line x1="30" y1="288.04" x2="32.6" y2="288.04" stroke="#666" stroke-width="1.1" />
<text x="27.4" y="291.64" font-size="9.4" text-anchor="end" fill="#111" stroke="#111" >100</text>
<line x1="30" y1="266.73" x2="32.6" y2="266.73" stroke="#666" stroke-width="1.1" />
<text x="27.4" y="270.33" font-size="9.4" text-anchor="end" fill="#111" stroke="#111" >120</text>
<line x1="30" y1="245.42" x2="32.6" y2="245.42" stroke="#666" stroke-width="1.1" />
<text x="27.4" y="249.02" font-size="9.4" text-anchor="end" fill="#111" stroke="#111" >140</text>
<line x1="30" y1="224.1" x2="32.6" y2="224.1" stroke="#666" stroke-width="1.1" />
<text x="27.4" y="227.7" font-size="9.4" text-anchor="end" fill="#111" stroke="#111" >160</text>
<line x1="30" y1="394.6" x2="270" y2="394.6" stroke="#838383" stroke-width="1.25" />
<line x1="66.8" y1="394.6" x2="66.8" y2="397" stroke="#666" stroke-width="1.1" />
<text x="67.3" y="407.4" font-size="8.9" text-anchor="middle" fill="#111" stroke="#111" >5/2017</text>
<line x1="100.64" y1="394.6" x2="100.64" y2="397" stroke="#666" stroke-width="1.1" />
<text x="101.14" y="407.4" font-size="8.9" text-anchor="middle" fill="#111" stroke="#111" >7/2017</text>
<line x1="134.48" y1="394.6" x2="134.48" y2="397" stroke="#666" stroke-width="1.1" />
<text x="134.98" y="407.4" font-size="8.9" text-anchor="middle" fill="#111" stroke="#111" >9/2017</text>
<line x1="168.32" y1="394.6" x2="168.32" y2="397" stroke="#666" stroke-width="1.1" />
<text x="168.82" y="407.4" font-size="8.9" text-anchor="middle" fill="#111" stroke="#111" >5/2018</text>
<line x1="202.16" y1="394.6" x2="202.16" y2="397" stroke="#666" stroke-width="1.1" />
<text x="202.66" y="407.4" font-size="8.9" text-anchor="middle" fill="#111" stroke="#111" >7/2018</text>
<line x1="236" y1="394.6" x2="236" y2="397" stroke="#666" stroke-width="1.1" />
<text x="236.5" y="407.4" font-size="8.9" text-anchor="middle" fill="#111" stroke="#111" >9/2018</text>
<text x="151.2" y="420.3" font-size="10" text-anchor="middle" fill="#111" stroke="#111" >Month/Year</text>
<text x="150" y="259.2" font-size="19.5" text-anchor="middle" fill="#1a1a1a" stroke="#1a1a1a" style="stroke-width:0.25px">(C)</text>
<text transform="translate(8.6,311) rotate(-90)" font-size="9.7" text-anchor="middle" fill="#111" stroke="#111">Needle litter C:N</text>
<rect x="230.1" y="230.9" width="15.2" height="5.0" fill="#d3e4fa"/>
<text x="248.3" y="235.9" font-size="7.4" text-anchor="start" fill="#3a3a3a" stroke="#3a3a3a" style="stroke-width:0.1px">CK</text>
<rect x="230.1" y="238.9" width="15.2" height="5.0" fill="#6aaef4"/>
<text x="248.3" y="243.9" font-size="7.4" text-anchor="start" fill="#3a3a3a" stroke="#3a3a3a" style="stroke-width:0.1px">LN</text>
<rect x="230.1" y="246.7" width="15.2" height="5.0" fill="#0b74ee"/>
<text x="248.3" y="251.7" font-size="7.4" text-anchor="start" fill="#3a3a3a" stroke="#3a3a3a" style="stroke-width:0.1px">MN</text>
<rect x="230.1" y="254.6" width="15.2" height="5.0" fill="#0b5cc9"/>
<text x="248.3" y="259.6" font-size="7.4" text-anchor="start" fill="#3a3a3a" stroke="#3a3a3a" style="stroke-width:0.1px">HN</text>
<rect x="327.8" y="287.46" width="5.0" height="107.74" fill="#d3e4fa"/>
<rect x="333.92" y="296.15" width="5.0" height="99.05" fill="#6aaef4"/>
<rect x="340.04" y="296.15" width="5.0" height="99.05" fill="#0b74ee"/>
<rect x="346.16" y="309.74" width="5.0" height="85.46" fill="#0b5cc9"/>
<rect x="361.82" y="308.15" width="5.0" height="87.05" fill="#d3e4fa"/>
<rect x="367.94" y="309.74" width="5.0" height="85.46" fill="#6aaef4"/>
<rect x="374.06" y="322.11" width="5.0" height="73.09" fill="#0b74ee"/>
<rect x="380.18" y="318.31" width="5.0" height="76.89" fill="#0b5cc9"/>
<rect x="395.84" y="303.87" width="5.0" height="91.33" fill="#d3e4fa"/>
<rect x="401.96" y="317.21" width="5.0" height="77.99" fill="#6aaef4"/>
<rect x="408.08" y="317.21" width="5.0" height="77.99" fill="#0b74ee"/>
<rect x="414.2" y="321.62" width="5.0" height="73.58" fill="#0b5cc9"/>
<rect x="429.86" y="314.27" width="5.0" height="80.93" fill="#d3e4fa"/>
<rect x="435.98" y="313.91" width="5.0" height="81.29" fill="#6aaef4"/>
<rect x="442.1" y="330.07" width="5.0" height="65.13" fill="#0b74ee"/>
<rect x="448.22" y="309.74" width="5.0" height="85.46" fill="#0b5cc9"/>
<rect x="463.88" y="313.78" width="5.0" height="81.42" fill="#d3e4fa"/>
<rect x="470" y="299.7" width="5.0" height="95.5" fill="#6aaef4"/>
<rect x="476.12" y="318.68" width="5.0" height="76.52" fill="#0b74ee"/>
<rect x="482.24" y="316.23" width="5.0" height="78.97" fill="#0b5cc9"/>
<rect x="497.9" y="308.76" width="5.0" height="86.44" fill="#d3e4fa"/>
<rect x="504.02" y="301.05" width="5.0" height="94.15" fill="#6aaef4"/>
<rect x="510.14" y="308.52" width="5.0" height="86.68" fill="#0b74ee"/>
<rect x="516.26" y="289.05" width="5.0" height="106.15" fill="#0b5cc9"/>
<line x1="330.3" y1="287.46" x2="330.3" y2="285.26" stroke="#666" stroke-width="0.8" />
<line x1="328" y1="285.26" x2="332.6" y2="285.26" stroke="#555" stroke-width="0.8" />
<text x="330.3" y="283.56" font-size="7.2" text-anchor="middle" fill="#3a3a3a" stroke="#3a3a3a" style="stroke-width:0.06px">a</text>
<line x1="336.42" y1="296.15" x2="336.42" y2="292.36" stroke="#666" stroke-width="0.8" />
<line x1="334.12" y1="292.36" x2="338.72" y2="292.36" stroke="#555" stroke-width="0.8" />
<text x="336.42" y="290.66" font-size="7.2" text-anchor="middle" fill="#3a3a3a" stroke="#3a3a3a" style="stroke-width:0.06px">ab</text>
<line x1="342.54" y1="296.15" x2="342.54" y2="289.54" stroke="#666" stroke-width="0.8" />
<line x1="340.24" y1="289.54" x2="344.84" y2="289.54" stroke="#555" stroke-width="0.8" />
<text x="342.54" y="287.84" font-size="7.2" text-anchor="middle" fill="#3a3a3a" stroke="#3a3a3a" style="stroke-width:0.06px">ab</text>
<line x1="348.66" y1="309.74" x2="348.66" y2="303.87" stroke="#666" stroke-width="0.8" />
<line x1="346.36" y1="303.87" x2="350.96" y2="303.87" stroke="#555" stroke-width="0.8" />
<text x="348.66" y="302.17" font-size="7.2" text-anchor="middle" fill="#3a3a3a" stroke="#3a3a3a" style="stroke-width:0.06px">b</text>
<line x1="364.32" y1="308.15" x2="364.32" y2="296.03" stroke="#666" stroke-width="0.8" />
<line x1="362.02" y1="296.03" x2="366.62" y2="296.03" stroke="#555" stroke-width="0.8" />
<text x="364.32" y="294.33" font-size="7.2" text-anchor="middle" fill="#3a3a3a" stroke="#3a3a3a" style="stroke-width:0.06px">a</text>
<line x1="370.44" y1="309.74" x2="370.44" y2="307.17" stroke="#666" stroke-width="0.8" />
<line x1="368.14" y1="307.17" x2="372.74" y2="307.17" stroke="#555" stroke-width="0.8" />
<text x="370.44" y="305.47" font-size="7.2" text-anchor="middle" fill="#3a3a3a" stroke="#3a3a3a" style="stroke-width:0.06px">a</text>
<line x1="376.56" y1="322.11" x2="376.56" y2="317.21" stroke="#666" stroke-width="0.8" />
<line x1="374.26" y1="317.21" x2="378.86" y2="317.21" stroke="#555" stroke-width="0.8" />
<text x="376.56" y="315.51" font-size="7.2" text-anchor="middle" fill="#3a3a3a" stroke="#3a3a3a" style="stroke-width:0.06px">a</text>
<line x1="382.68" y1="318.31" x2="382.68" y2="313.54" stroke="#666" stroke-width="0.8" />
<line x1="380.38" y1="313.54" x2="384.98" y2="313.54" stroke="#555" stroke-width="0.8" />
<text x="382.68" y="311.84" font-size="7.2" text-anchor="middle" fill="#3a3a3a" stroke="#3a3a3a" style="stroke-width:0.06px">a</text>
<line x1="398.34" y1="303.87" x2="398.34" y2="298.48" stroke="#666" stroke-width="0.8" />
<line x1="396.04" y1="298.48" x2="400.64" y2="298.48" stroke="#555" stroke-width="0.8" />
<text x="398.34" y="296.78" font-size="7.2" text-anchor="middle" fill="#3a3a3a" stroke="#3a3a3a" style="stroke-width:0.06px">a</text>
<line x1="404.46" y1="317.21" x2="404.46" y2="310.48" stroke="#666" stroke-width="0.8" />
<line x1="402.16" y1="310.48" x2="406.76" y2="310.48" stroke="#555" stroke-width="0.8" />
<text x="404.46" y="308.78" font-size="7.2" text-anchor="middle" fill="#3a3a3a" stroke="#3a3a3a" style="stroke-width:0.06px">ab</text>
<line x1="410.58" y1="317.21" x2="410.58" y2="313.91" stroke="#666" stroke-width="0.8" />
<line x1="408.28" y1="313.91" x2="412.88" y2="313.91" stroke="#555" stroke-width="0.8" />
<text x="410.58" y="312.21" font-size="7.2" text-anchor="middle" fill="#3a3a3a" stroke="#3a3a3a" style="stroke-width:0.06px">ab</text>
<line x1="416.7" y1="321.62" x2="416.7" y2="315.01" stroke="#666" stroke-width="0.8" />
<line x1="414.4" y1="315.01" x2="419" y2="315.01" stroke="#555" stroke-width="0.8" />
<text x="416.7" y="313.31" font-size="7.2" text-anchor="middle" fill="#3a3a3a" stroke="#3a3a3a" style="stroke-width:0.06px">b</text>
<line x1="432.36" y1="314.27" x2="432.36" y2="307.17" stroke="#666" stroke-width="0.8" />
<line x1="430.06" y1="307.17" x2="434.66" y2="307.17" stroke="#555" stroke-width="0.8" />
<text x="432.36" y="305.47" font-size="7.2" text-anchor="middle" fill="#3a3a3a" stroke="#3a3a3a" style="stroke-width:0.06px">a</text>
<line x1="438.48" y1="313.91" x2="438.48" y2="313.42" stroke="#666" stroke-width="0.8" />
<line x1="436.18" y1="313.42" x2="440.78" y2="313.42" stroke="#555" stroke-width="0.8" />
<text x="438.48" y="311.72" font-size="7.2" text-anchor="middle" fill="#3a3a3a" stroke="#3a3a3a" style="stroke-width:0.06px">a</text>
<line x1="444.6" y1="330.07" x2="444.6" y2="327.86" stroke="#666" stroke-width="0.8" />
<line x1="442.3" y1="327.86" x2="446.9" y2="327.86" stroke="#555" stroke-width="0.8" />
<text x="444.6" y="326.16" font-size="7.2" text-anchor="middle" fill="#3a3a3a" stroke="#3a3a3a" style="stroke-width:0.06px">b</text>
<line x1="450.72" y1="309.74" x2="450.72" y2="308.89" stroke="#666" stroke-width="0.8" />
<line x1="448.42" y1="308.89" x2="453.02" y2="308.89" stroke="#555" stroke-width="0.8" />
<text x="450.72" y="307.19" font-size="7.2" text-anchor="middle" fill="#3a3a3a" stroke="#3a3a3a" style="stroke-width:0.06px">a</text>
<line x1="466.38" y1="313.78" x2="466.38" y2="311.34" stroke="#666" stroke-width="0.8" />
<line x1="464.08" y1="311.34" x2="468.68" y2="311.34" stroke="#555" stroke-width="0.8" />
<text x="466.38" y="309.64" font-size="7.2" text-anchor="middle" fill="#3a3a3a" stroke="#3a3a3a" style="stroke-width:0.06px">b</text>
<line x1="472.5" y1="299.7" x2="472.5" y2="299.21" stroke="#666" stroke-width="0.8" />
<line x1="470.2" y1="299.21" x2="474.8" y2="299.21" stroke="#555" stroke-width="0.8" />
<text x="472.5" y="297.51" font-size="7.2" text-anchor="middle" fill="#3a3a3a" stroke="#3a3a3a" style="stroke-width:0.06px">a</text>
<line x1="478.62" y1="318.68" x2="478.62" y2="316.23" stroke="#666" stroke-width="0.8" />
<line x1="476.32" y1="316.23" x2="480.92" y2="316.23" stroke="#555" stroke-width="0.8" />
<text x="478.62" y="314.53" font-size="7.2" text-anchor="middle" fill="#3a3a3a" stroke="#3a3a3a" style="stroke-width:0.06px">b</text>
<line x1="484.74" y1="316.23" x2="484.74" y2="312.56" stroke="#666" stroke-width="0.8" />
<line x1="482.44" y1="312.56" x2="487.04" y2="312.56" stroke="#555" stroke-width="0.8" />
<text x="484.74" y="310.86" font-size="7.2" text-anchor="middle" fill="#3a3a3a" stroke="#3a3a3a" style="stroke-width:0.06px">b</text>
<line x1="500.4" y1="308.76" x2="500.4" y2="308.27" stroke="#666" stroke-width="0.8" />
<line x1="498.1" y1="308.27" x2="502.7" y2="308.27" stroke="#555" stroke-width="0.8" />
<text x="500.4" y="306.57" font-size="7.2" text-anchor="middle" fill="#3a3a3a" stroke="#3a3a3a" style="stroke-width:0.06px">a</text>
<line x1="506.52" y1="301.05" x2="506.52" y2="297.75" stroke="#666" stroke-width="0.8" />
<line x1="504.22" y1="297.75" x2="508.82" y2="297.75" stroke="#555" stroke-width="0.8" />
<text x="506.52" y="296.05" font-size="7.2" text-anchor="middle" fill="#3a3a3a" stroke="#3a3a3a" style="stroke-width:0.06px">a</text>
<line x1="512.64" y1="308.52" x2="512.64" y2="304.36" stroke="#666" stroke-width="0.8" />
<line x1="510.34" y1="304.36" x2="514.94" y2="304.36" stroke="#555" stroke-width="0.8" />
<text x="512.64" y="302.66" font-size="7.2" text-anchor="middle" fill="#3a3a3a" stroke="#3a3a3a" style="stroke-width:0.06px">a</text>
<line x1="518.76" y1="289.05" x2="518.76" y2="279.5" stroke="#666" stroke-width="0.8" />
<line x1="516.46" y1="279.5" x2="521.06" y2="279.5" stroke="#555" stroke-width="0.8" />
<text x="518.76" y="277.8" font-size="7.2" text-anchor="middle" fill="#3a3a3a" stroke="#3a3a3a" style="stroke-width:0.06px">a</text>
<line x1="305.3" y1="223.5" x2="305.3" y2="395.6" stroke="#838383" stroke-width="1.25" />
<line x1="302.7" y1="395.2" x2="305.3" y2="395.2" stroke="#666" stroke-width="1.1" />
<text x="300.9" y="398.8" font-size="9.4" text-anchor="end" fill="#111" stroke="#111" >0</text>
<line x1="302.7" y1="370.71" x2="305.3" y2="370.71" stroke="#666" stroke-width="1.1" />
<text x="300.9" y="374.31" font-size="9.4" text-anchor="end" fill="#111" stroke="#111" >20</text>
<line x1="302.7" y1="346.23" x2="305.3" y2="346.23" stroke="#666" stroke-width="1.1" />
<text x="300.9" y="349.83" font-size="9.4" text-anchor="end" fill="#111" stroke="#111" >40</text>
<line x1="302.7" y1="321.74" x2="305.3" y2="321.74" stroke="#666" stroke-width="1.1" />
<text x="300.9" y="325.34" font-size="9.4" text-anchor="end" fill="#111" stroke="#111" >60</text>
<line x1="302.7" y1="297.26" x2="305.3" y2="297.26" stroke="#666" stroke-width="1.1" />
<text x="300.9" y="300.86" font-size="9.4" text-anchor="end" fill="#111" stroke="#111" >80</text>
<line x1="302.7" y1="272.77" x2="305.3" y2="272.77" stroke="#666" stroke-width="1.1" />
<text x="300.9" y="276.37" font-size="9.4" text-anchor="end" fill="#111" stroke="#111" >100</text>
<line x1="302.7" y1="248.28" x2="305.3" y2="248.28" stroke="#666" stroke-width="1.1" />
<text x="300.9" y="251.88" font-size="9.4" text-anchor="end" fill="#111" stroke="#111" >120</text>
<line x1="302.7" y1="223.8" x2="305.3" y2="223.8" stroke="#666" stroke-width="1.1" />
<text x="300.9" y="227.4" font-size="9.4" text-anchor="end" fill="#111" stroke="#111" >140</text>
<line x1="302.7" y1="395.2" x2="543" y2="395.2" stroke="#838383" stroke-width="1.25" />
<line x1="339.5" y1="395.2" x2="339.5" y2="397.6" stroke="#666" stroke-width="1.1" />
<text x="340" y="407.4" font-size="8.9" text-anchor="middle" fill="#111" stroke="#111" >5/2017</text>
<line x1="373.52" y1="395.2" x2="373.52" y2="397.6" stroke="#666" stroke-width="1.1" />
<text x="374.02" y="407.4" font-size="8.9" text-anchor="middle" fill="#111" stroke="#111" >7/2017</text>
<line x1="407.54" y1="395.2" x2="407.54" y2="397.6" stroke="#666" stroke-width="1.1" />
<text x="408.04" y="407.4" font-size="8.9" text-anchor="middle" fill="#111" stroke="#111" >9/2017</text>
<line x1="441.56" y1="395.2" x2="441.56" y2="397.6" stroke="#666" stroke-width="1.1" />
<text x="442.06" y="407.4" font-size="8.9" text-anchor="middle" fill="#111" stroke="#111" >5/2018</text>
<line x1="475.58" y1="395.2" x2="475.58" y2="397.6" stroke="#666" stroke-width="1.1" />
<text x="476.08" y="407.4" font-size="8.9" text-anchor="middle" fill="#111" stroke="#111" >7/2018</text>
<line x1="509.6" y1="395.2" x2="509.6" y2="397.6" stroke="#666" stroke-width="1.1" />
<text x="510.1" y="407.4" font-size="8.9" text-anchor="middle" fill="#111" stroke="#111" >9/2018</text>
<text x="425" y="420.3" font-size="10" text-anchor="middle" fill="#111" stroke="#111" >Month/Year</text>
<text x="436" y="258.7" font-size="19.5" text-anchor="middle" fill="#1a1a1a" stroke="#1a1a1a" style="stroke-width:0.25px">(D)</text>
<text transform="translate(282,312) rotate(-90)" font-size="9.7" text-anchor="middle" fill="#111" stroke="#111">Mixed litter C:N</text>
<rect x="502.3" y="231" width="15.2" height="5.0" fill="#d3e4fa"/>
<text x="522" y="236" font-size="7.4" text-anchor="start" fill="#3a3a3a" stroke="#3a3a3a" style="stroke-width:0.1px">CK</text>
<rect x="502.3" y="238.8" width="15.2" height="5.0" fill="#6aaef4"/>
<text x="522" y="243.8" font-size="7.4" text-anchor="start" fill="#3a3a3a" stroke="#3a3a3a" style="stroke-width:0.1px">LN</text>
<rect x="502.3" y="246.4" width="15.2" height="5.0" fill="#0b74ee"/>
<text x="522" y="251.4" font-size="7.4" text-anchor="start" fill="#3a3a3a" stroke="#3a3a3a" style="stroke-width:0.1px">MN</text>
<rect x="502.3" y="254.6" width="15.2" height="5.0" fill="#0b5cc9"/>
<text x="522" y="259.6" font-size="7.4" text-anchor="start" fill="#3a3a3a" stroke="#3a3a3a" style="stroke-width:0.1px">HN</text>
<line x1="543.6" y1="224" x2="543.6" y2="395" stroke="#f2f2f2" stroke-width="0.8" />
</g>
</svg></body></html>
